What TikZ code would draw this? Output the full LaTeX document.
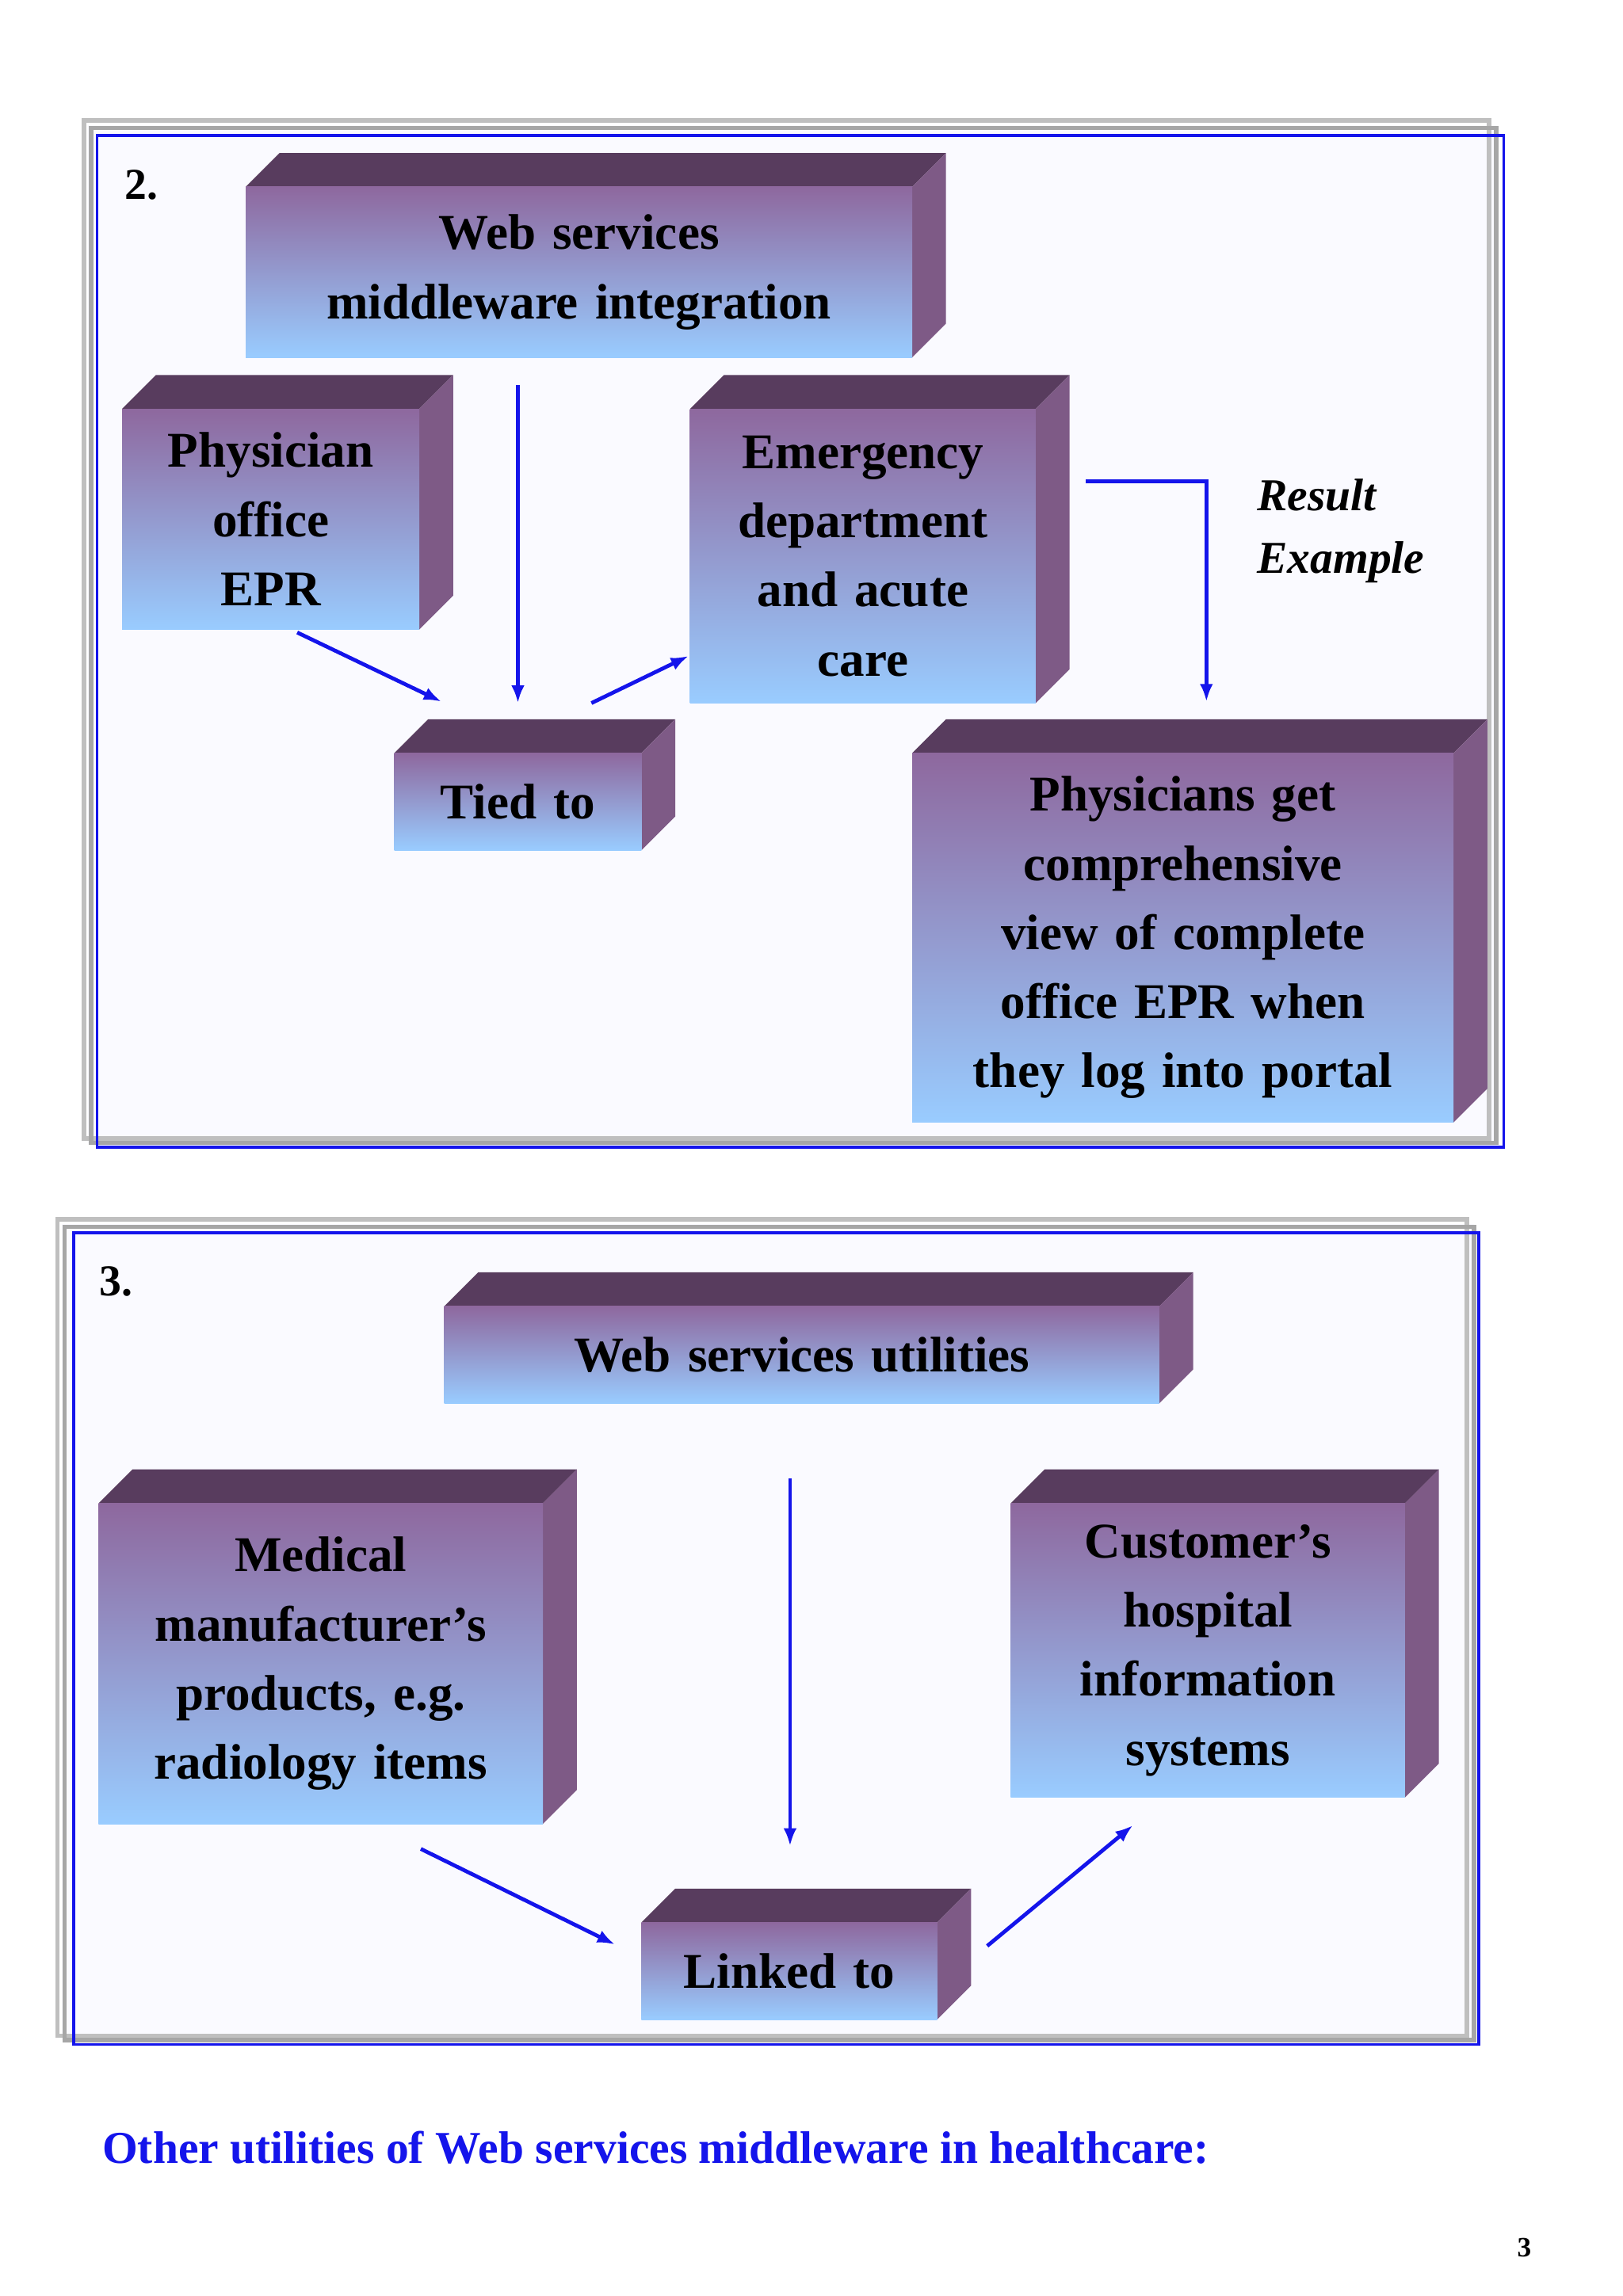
\documentclass[tikz,border=0pt]{standalone}
\usepackage{fontspec}
\setmainfont{Liberation Serif}
\usetikzlibrary{arrows.meta}
\definecolor{topc}{RGB}{88,60,94}
\definecolor{sidec}{RGB}{126,90,134}
\definecolor{frontt}{RGB}{142,104,158}
\definecolor{frontb}{RGB}{153,204,255}
\definecolor{ablue}{RGB}{20,20,235}
\tikzset{
 lbl/.style={font=\fontsize{34}{47}\selectfont\bfseries, align=center, inner sep=0pt},
 arr/.style={draw=ablue, line width=2.6pt, -{Latex[length=12pt,width=9pt]}},
 graybox/.style={draw=gray!50, line width=3pt},
 bluebox/.style={draw=ablue, line width=2pt}
}
\newcommand\cubebox[6]{%
 \fill[topc] (#2,#3) -- ({#2+23},{#3-23}) -- ({#4+23},{#3-23}) -- (#4,#3) -- cycle;
 \fill[sidec] (#4,#3) -- ({#4+23},{#3-23}) -- ({#4+23},{#5-23}) -- (#4,#5) -- cycle;
 \shade[top color=frontt, bottom color=frontb] (#2,#3) rectangle (#4,#5);
 \node[lbl, text width={(#4-#2)*1pt}] (#1) at ({(#2+#4)/2},{(#3+#5)/2}) {#6};
}
\begin{document}
\begin{tikzpicture}[x=1pt,y=-1pt]
\useasboundingbox[fill=white] (0,0) rectangle (1103,1561);
% panel 2
\fill[blue!2] (60,85) rectangle (1017,777);
\draw[graybox] (57,82) rectangle (1012,774);
\draw[graybox,draw=gray!70] (62,87) rectangle (1017,777);
\draw[bluebox] (66,92) rectangle (1022,780);
\node[font=\fontsize{30}{36}\selectfont\bfseries] (n2) at (96,126) {2.};
\cubebox{ws}{167}{127}{620}{243}{Web services\\middleware integration}
\cubebox{po}{83}{278}{285}{428}{Physician\\office\\EPR}
\cubebox{ed}{469}{278}{704}{478}{Emergency\\department\\and acute\\care}
\cubebox{ti}{268}{512}{436}{578}{Tied to}
\cubebox{pg}{620}{512}{988}{763}{Physicians get\\comprehensive\\view of complete\\office EPR when\\they log into portal}
\node[font=\fontsize{31}{43}\selectfont\bfseries\itshape, align=left, anchor=west] (re) at (851,361) {Result\\Example};
\coordinate (a1) at (352,262); \coordinate (a2) at (352,478);
\coordinate (b1) at (202,430); \coordinate (b2) at (300,477);
\coordinate (c1) at (402,478); \coordinate (c2) at (468,446);
\coordinate (d1) at (738,327); \coordinate (d2) at (820,327); \coordinate (d3) at (820,477);
\draw[arr] (a1) -- (a2);
\draw[arr] (b1) -- (b2);
\draw[arr] (c1) -- (c2);
\draw[arr] (d1) -- (d2) -- (d3);
% panel 3
\fill[blue!2] (42,832) rectangle (1002,1387);
\draw[graybox] (39,829) rectangle (997,1384);
\draw[graybox,draw=gray!70] (44,834) rectangle (1002,1387);
\draw[bluebox] (50,838) rectangle (1005,1390);
\node[font=\fontsize{30}{36}\selectfont\bfseries] (n3) at (79,871) {3.};
\cubebox{wu}{302}{888}{788}{954}{Web services utilities}
\cubebox{mm}{67}{1022}{369}{1240}{Medical\\manufacturer’s\\products, e.g.\\radiology items}
\cubebox{ch}{687}{1022}{955}{1222}{Customer’s\\hospital\\information\\systems}
\cubebox{lt}{436}{1307}{637}{1373}{Linked to}
\coordinate (e1) at (537,1005); \coordinate (e2) at (537,1255);
\coordinate (f1) at (286,1257); \coordinate (f2) at (418,1322);
\coordinate (g1) at (671,1323); \coordinate (g2) at (770,1241);
\draw[arr] (e1) -- (e2);
\draw[arr] (f1) -- (f2);
\draw[arr] (g1) -- (g2);
\node[font=\fontsize{31}{36}\selectfont\bfseries, text=ablue, anchor=west] (ot) at (66,1460) {Other utilities of Web services middleware in healthcare:};
\node[font=\fontsize{19}{22}\selectfont\bfseries] (pn) at (1036,1528) {3};
\end{tikzpicture}
\end{document}
